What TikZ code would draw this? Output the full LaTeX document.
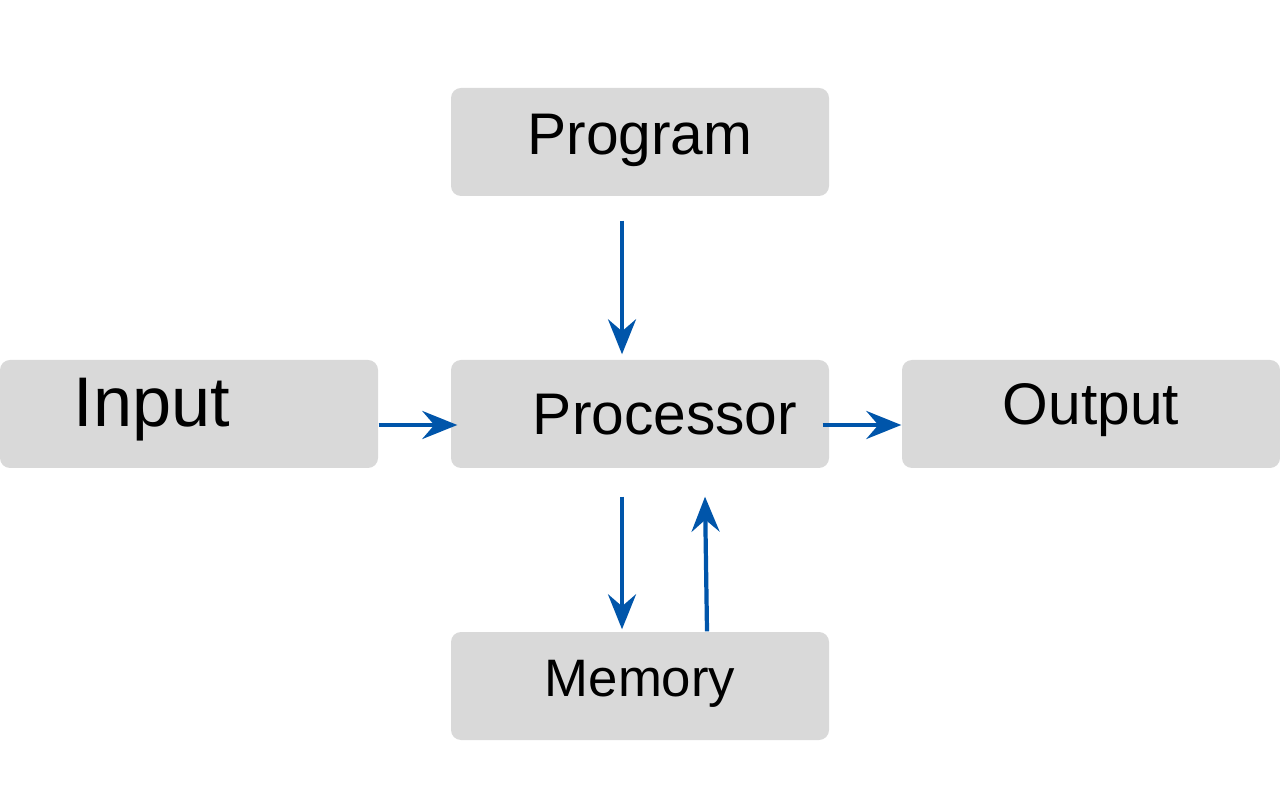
\documentclass[tikz,border=0pt]{standalone}
\usepackage{fontspec}
\setmainfont{Liberation Sans}
\usetikzlibrary{arrows.meta}
\definecolor{boxgray}{RGB}{217,217,217}
\definecolor{flowblue}{RGB}{0,85,170}

\begin{document}
\begin{tikzpicture}[
    box/.style={fill=boxgray,rounded corners=0.1cm,minimum width=3.78cm,minimum height=1.08cm,inner sep=0pt},
    flow/.style={flowblue,line width=1.2pt,-{Stealth[length=0.35cm,width=0.28cm,inset=0.12cm]}}
  ]
  % Frame
  \useasboundingbox (0,0) rectangle (12.8,8);

  % Boxes
  \node[box] (prog) at (6.40,6.58) {};
  \node[box] (proc) at (6.40,3.86) {};
  \node[box] (inp) at (1.89,3.86) {};
  \node[box] (outp) at (10.91,3.86) {};
  \node[box] (mem) at (6.40,1.14) {};

  % Labels
  \node[font=\fontsize{16.7}{20}\selectfont] (progtxt) at (6.40,6.60) {Program};
  \node[font=\fontsize{16.7}{20}\selectfont] (proctxt) at (6.65,3.85) {Processor};
  \node[font=\fontsize{20}{24}\selectfont] (inptxt) at (1.52,3.90) {Input};
  \node[font=\fontsize{16.7}{20}\selectfont] (outptxt) at (10.91,3.90) {Output};
  \node[font=\fontsize{15}{18}\selectfont] (memtxt) at (6.40,1.16) {Memory};

  % Arrows
  \draw[flow] ([xshift=-0.18cm,yshift=-0.24cm]prog.south) -- ([xshift=-0.18cm,yshift=0.05cm]proc.north);
  \draw[flow] ([yshift=-0.11cm]inp.east) -- ([xshift=0.07cm,yshift=-0.11cm]proc.west);
  \draw[flow] ([xshift=-0.07cm,yshift=-0.11cm]proc.east) -- ([yshift=-0.11cm]outp.west);
  \draw[flow] ([xshift=-0.18cm,yshift=-0.28cm]proc.south) -- ([xshift=-0.18cm,yshift=0.02cm]mem.north);
  \draw[flow] ([xshift=0.67cm]mem.north) -- ([xshift=0.65cm,yshift=-0.28cm]proc.south);
\end{tikzpicture}
\end{document}
